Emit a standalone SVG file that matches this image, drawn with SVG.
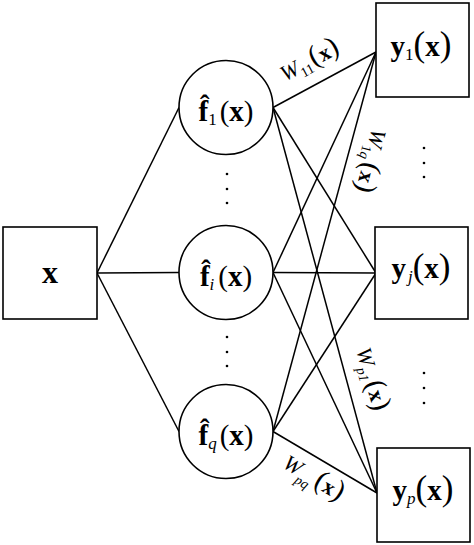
<svg xmlns="http://www.w3.org/2000/svg" width="474" height="545" viewBox="0 0 474 545">
<style>
.bg{fill:#fff}
.box,.node{fill:#fff;stroke:#000;stroke-width:1.6}
.edge{stroke:#000;stroke-width:1.5;fill:none}
text{font-family:"Liberation Serif","Times New Roman",serif;fill:#000}
.b{font-weight:bold}
.i{font-style:italic}
.dot{fill:#000}
</style>
<rect class="bg" x="0" y="0" width="474" height="545"/>
<g id="connectors">
<line class="edge" x1="97" y1="273" x2="179" y2="107.5"/>
<line class="edge" x1="97" y1="273" x2="179" y2="272.5"/>
<line class="edge" x1="97" y1="273" x2="179" y2="431.5"/>
<line class="edge" x1="273" y1="107.5" x2="376" y2="52"/>
<line class="edge" x1="273" y1="107.5" x2="376" y2="273"/>
<line class="edge" x1="273" y1="107.5" x2="377" y2="493"/>
<line class="edge" x1="273" y1="272.5" x2="376" y2="52"/>
<line class="edge" x1="273" y1="272.5" x2="376" y2="273"/>
<line class="edge" x1="273" y1="272.5" x2="377" y2="493"/>
<line class="edge" x1="273" y1="431.5" x2="376" y2="52"/>
<line class="edge" x1="273" y1="431.5" x2="376" y2="273"/>
<line class="edge" x1="273" y1="431.5" x2="377" y2="493"/>
</g>
<g id="edge-labels" font-size="22">
<text transform="translate(313,67) rotate(-28)" text-anchor="middle"><tspan class="i">W</tspan><tspan font-size="14" dy="5">11</tspan><tspan font-size="29" dy="-5" dx="1">(</tspan><tspan class="b">x</tspan><tspan font-size="29">)</tspan></text>
<text transform="translate(364,159) rotate(105)" text-anchor="middle"><tspan class="i">W</tspan><tspan font-size="14" dy="5">1<tspan class="i">q</tspan></tspan><tspan font-size="29" dy="-5" dx="2">(</tspan><tspan class="b">x</tspan><tspan font-size="29">)</tspan></text>
<text transform="translate(365,381) rotate(74)" text-anchor="middle"><tspan class="i">W</tspan><tspan font-size="14" dy="5" class="i">p1</tspan><tspan font-size="29" dy="-5" dx="2">(</tspan><tspan class="b">x</tspan><tspan font-size="29">)</tspan></text>
<text transform="translate(310,484) rotate(31)" text-anchor="middle"><tspan class="i">W</tspan><tspan font-size="14" dy="7" class="i">pq</tspan><tspan font-size="29" dy="-7" dx="4">(</tspan><tspan class="b">x</tspan><tspan font-size="29">)</tspan></text>
</g>
<g id="node-x">
<rect class="box" x="3" y="227" width="94" height="92"/>
<text class="b" x="50" y="283" font-size="32" text-anchor="middle">x</text>
</g>
<g id="node-f1">
<circle class="node" cx="226" cy="107.5" r="47"/>
<text x="226" y="121" font-size="29" text-anchor="middle"><tspan class="b">f&#x302;</tspan><tspan font-size="17" dy="4">1</tspan><tspan dy="-4" dx="3">(</tspan><tspan class="b">x</tspan>)</text>
</g>
<g id="node-fi">
<circle class="node" cx="226" cy="272.5" r="47"/>
<text x="226" y="286" font-size="29" text-anchor="middle"><tspan class="b">f&#x302;</tspan><tspan font-size="17" dy="4" class="i">i</tspan><tspan dy="-4" dx="4">(</tspan><tspan class="b">x</tspan>)</text>
</g>
<g id="node-fq">
<circle class="node" cx="226" cy="431.5" r="47"/>
<text x="226" y="445" font-size="29" text-anchor="middle"><tspan class="b">f&#x302;</tspan><tspan font-size="17" dy="4" class="i">q</tspan><tspan dy="-4" dx="3">(</tspan><tspan class="b">x</tspan>)</text>
</g>
<g id="node-y1">
<rect class="box" x="376" y="3" width="93" height="94"/>
<text x="421" y="56" font-size="29" text-anchor="middle"><tspan class="b">y</tspan><tspan font-size="17" dy="4">1</tspan><tspan font-size="35" dy="-4">(</tspan><tspan class="b">x</tspan><tspan font-size="35">)</tspan></text>
</g>
<g id="node-yj">
<rect class="box" x="375" y="227" width="93" height="92"/>
<text x="421" y="278" font-size="29" text-anchor="middle"><tspan class="b">y</tspan><tspan font-size="17" dy="4" dx="2" class="i">j</tspan><tspan font-size="35" dy="-4">(</tspan><tspan class="b">x</tspan><tspan font-size="35">)</tspan></text>
</g>
<g id="node-yp">
<rect class="box" x="377" y="448" width="93" height="94"/>
<text x="423" y="500" font-size="29" text-anchor="middle"><tspan class="b">y</tspan><tspan font-size="17" dy="4" class="i">p</tspan><tspan font-size="35" dy="-4">(</tspan><tspan class="b">x</tspan><tspan font-size="35">)</tspan></text>
</g>
<g id="ellipses">
<circle class="dot" cx="227" cy="174" r="1.3"/>
<circle class="dot" cx="227" cy="189" r="1.3"/>
<circle class="dot" cx="227" cy="203" r="1.3"/>
<circle class="dot" cx="227" cy="337" r="1.3"/>
<circle class="dot" cx="227" cy="352" r="1.3"/>
<circle class="dot" cx="227" cy="366" r="1.3"/>
<circle class="dot" cx="424" cy="148" r="1.3"/>
<circle class="dot" cx="424" cy="163" r="1.3"/>
<circle class="dot" cx="424" cy="177" r="1.3"/>
<circle class="dot" cx="424" cy="373" r="1.3"/>
<circle class="dot" cx="424" cy="388" r="1.3"/>
<circle class="dot" cx="424" cy="403" r="1.3"/>
</g>
</svg>
